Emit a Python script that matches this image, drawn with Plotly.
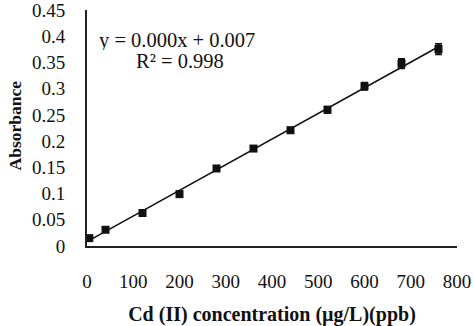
import numpy as np
import plotly.graph_objects as go

# Cd(II) calibration standards
conc_ppb = [5, 40, 120, 200, 280, 360, 440, 520, 600, 680, 760]
absorbance = [0.015, 0.031, 0.063, 0.099, 0.148, 0.186, 0.221, 0.260, 0.305, 0.348, 0.376]
abs_err = [0.004, 0.004, 0.004, 0.005, 0.004, 0.005, 0.005, 0.006, 0.007, 0.009, 0.010]

x_ticks = [0, 100, 200, 300, 400, 500, 600, 700, 800]
y_ticks = [0, 0.05, 0.1, 0.15, 0.2, 0.25, 0.3, 0.35, 0.4, 0.45]
y_tick_text = ["0", "0.05", "0.1", "0.15", "0.2", "0.25", "0.3", "0.35", "0.4", "0.45"]

equation_text = "y = 0.000x + 0.007"
r2_text = "R² = 0.998"

# Least-squares trend line across the calibration range
slope, intercept = np.polyfit(conc_ppb, absorbance, 1)
fit_x = [conc_ppb[0], conc_ppb[-1]]
fit_y = [slope * v + intercept for v in fit_x]

serif = "Liberation Serif, Times New Roman, serif"
ink = "#111111"

fig = go.Figure()
fig.add_trace(go.Scatter(
    x=fit_x, y=fit_y, mode="lines",
    line=dict(color=ink, width=1.6),
    showlegend=False, hoverinfo="skip",
))
fig.add_trace(go.Scatter(
    x=conc_ppb, y=absorbance, mode="markers",
    marker=dict(symbol="square", size=8, color=ink),
    error_y=dict(type="data", array=abs_err, visible=True,
                 color=ink, thickness=1.8, width=3.5),
    showlegend=False,
))

# Trendline equation and coefficient of determination
fig.add_annotation(
    x=0.242, y=0.872, xref="paper", yref="paper", text=equation_text,
    showarrow=False, xanchor="center", yanchor="middle", height=19,
    font=dict(family=serif, size=20.5, color=ink),
)
fig.add_annotation(
    x=0.251, y=0.787, xref="paper", yref="paper", text=r2_text,
    showarrow=False, xanchor="center", yanchor="middle", height=19,
    font=dict(family=serif, size=20.5, color=ink),
)
fig.add_annotation(
    x=-0.195, y=0.51, xref="paper", yref="paper",
    text="<b>Absorbance</b>", textangle=-90, showarrow=False,
    xanchor="center", yanchor="middle",
    font=dict(family=serif, size=17.5, color=ink),
)

fig.update_layout(
    width=474, height=326,
    margin=dict(l=87, r=17, t=10, b=80, autoexpand=False),
    paper_bgcolor="white", plot_bgcolor="white",
    font=dict(family=serif, size=19, color=ink),
    xaxis=dict(
        range=[0, 800], tickvals=x_ticks, showgrid=False, zeroline=False,
        automargin=False,
        showline=True, linecolor="#222222", linewidth=2,
        ticks="outside", ticklen=17, tickcolor="rgba(0,0,0,0)",
        title=dict(text="<b>Cd (II) concentration (µg/L)(ppb)</b>",
                   font=dict(family=serif, size=20), standoff=26),
    ),
    yaxis=dict(
        range=[0, 0.4505], tickvals=y_ticks, ticktext=y_tick_text,
        showgrid=False, zeroline=False, ticklabeloverflow="allow",
        automargin=False,
        showline=True, linecolor="#222222", linewidth=2,
        ticks="outside", ticklen=16, tickcolor="rgba(0,0,0,0)",
    ),
)

fig.write_html("out.html")
